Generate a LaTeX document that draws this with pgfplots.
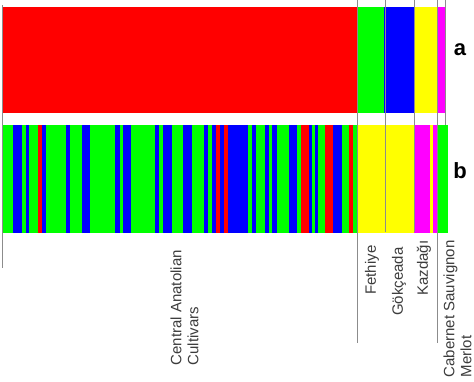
\documentclass[border=0pt]{standalone}
\usepackage{pgfplots}
\pgfplotsset{compat=1.18}
\usepackage{fontspec}
\setmainfont{Liberation Sans}
\definecolor{cR}{RGB}{255,0,0}
\definecolor{cG}{RGB}{0,255,0}
\definecolor{cB}{RGB}{0,0,255}
\definecolor{cY}{RGB}{255,255,0}
\definecolor{cM}{RGB}{255,0,255}
\definecolor{lab}{RGB}{60,60,60}
\definecolor{ln}{RGB}{140,140,140}
% segment of strip a and strip b: x0, x1, colour
\newcommand{\segA}[3]{\addplot[fill=#3,draw=#3,line width=0.3pt] coordinates {(#1,7) (#2,7) (#2,112) (#1,112)} --cycle;}
\newcommand{\segB}[3]{\addplot[fill=#3,draw=#3,line width=0.3pt] coordinates {(#1,125) (#2,125) (#2,232) (#1,232)} --cycle;}
\begin{document}
\begin{tikzpicture}
\begin{axis}[scale only axis, width=474pt, height=381pt,
  xmin=0, xmax=474, ymin=0, ymax=381, y dir=reverse,
  axis lines=none, clip=false]
\path (axis cs:0,0) rectangle (axis cs:474,381);
% strip a
\segA{3}{357}{cR}
\segA{357}{384}{cG}
\segA{384}{414}{cB}
\segA{414}{437}{cY}
\segA{437}{445}{cM}
% strip b
\segB{3}{13}{cG}
\segB{13}{22}{cB}
\segB{22}{26}{cG}
\segB{26}{29}{cB}
\segB{29}{38}{cG}
\segB{38}{42}{cR}
\segB{42}{46}{cB}
\segB{46}{66}{cG}
\segB{66}{70}{cB}
\segB{70}{82}{cG}
\segB{82}{90}{cB}
\segB{90}{115}{cG}
\segB{115}{120}{cB}
\segB{120}{123}{cG}
\segB{123}{131}{cB}
\segB{131}{155}{cG}
\segB{155}{159}{cB}
\segB{159}{163}{cG}
\segB{163}{172}{cB}
\segB{172}{183}{cG}
\segB{183}{192}{cB}
\segB{192}{204}{cG}
\segB{204}{208}{cB}
\segB{208}{212}{cG}
\segB{212}{216}{cB}
\segB{216}{220}{cR}
\segB{220}{224}{cB}
\segB{224}{228}{cR}
\segB{228}{248}{cB}
\segB{248}{252}{cG}
\segB{252}{256}{cB}
\segB{256}{265}{cG}
\segB{265}{269}{cB}
\segB{269}{272}{cG}
\segB{272}{277}{cB}
\segB{277}{289}{cG}
\segB{289}{297}{cB}
\segB{297}{301}{cG}
\segB{301}{309}{cR}
\segB{309}{312}{cB}
\segB{312}{315}{cG}
\segB{315}{318}{cB}
\segB{318}{325}{cG}
\segB{325}{333}{cR}
\segB{333}{342}{cB}
\segB{342}{349}{cG}
\segB{349}{353}{cR}
\segB{353}{357}{cG}
\segB{357}{414}{cY}
\segB{414}{430}{cM}
\segB{430}{433}{cY}
\segB{433}{437}{cM}
\segB{437}{447}{cG}
% population dividers
\addplot[ln, line width=0.8pt] coordinates {(2.5,5) (2.5,268)};
\addplot[ln, line width=0.8pt] coordinates {(357,0) (357,343)};
\addplot[ln, line width=0.8pt] coordinates {(385,0) (385,232)};
\addplot[ln, line width=0.8pt] coordinates {(414,0) (414,232)};
\addplot[ln, line width=0.8pt] coordinates {(437,0) (437,343)};
\addplot[ln, line width=0.8pt] coordinates {(445,0) (445,125)};
% labels
\node[rotate=90, anchor=west, align=left, inner sep=0pt, text=lab, font=\fontsize{15}{17}\selectfont] at (axis cs:184.5,365) {Central Anatolian\\Cultivars};
\node[rotate=90, anchor=east, inner sep=0pt, text=lab, font=\fontsize{15}{17}\selectfont] at (axis cs:372,245) {Fethiye};
\node[rotate=90, anchor=east, inner sep=0pt, text=lab, font=\fontsize{15}{17}\selectfont] at (axis cs:399,247) {Gökçeada};
\node[rotate=90, anchor=east, inner sep=0pt, text=lab, font=\fontsize{15}{17}\selectfont] at (axis cs:424,240) {Kazdağı};
\node[rotate=90, anchor=west, align=left, inner sep=0pt, text=lab, font=\fontsize{15}{17}\selectfont] at (axis cs:457.5,377) {Cabernet Sauvignon\\Merlot};
\node[inner sep=0pt, font=\fontsize{22}{22}\selectfont\bfseries] at (axis cs:460,49) {a};
\node[inner sep=0pt, font=\fontsize{22}{22}\selectfont\bfseries] at (axis cs:460,170) {b};
\end{axis}
\end{tikzpicture}
\end{document}
